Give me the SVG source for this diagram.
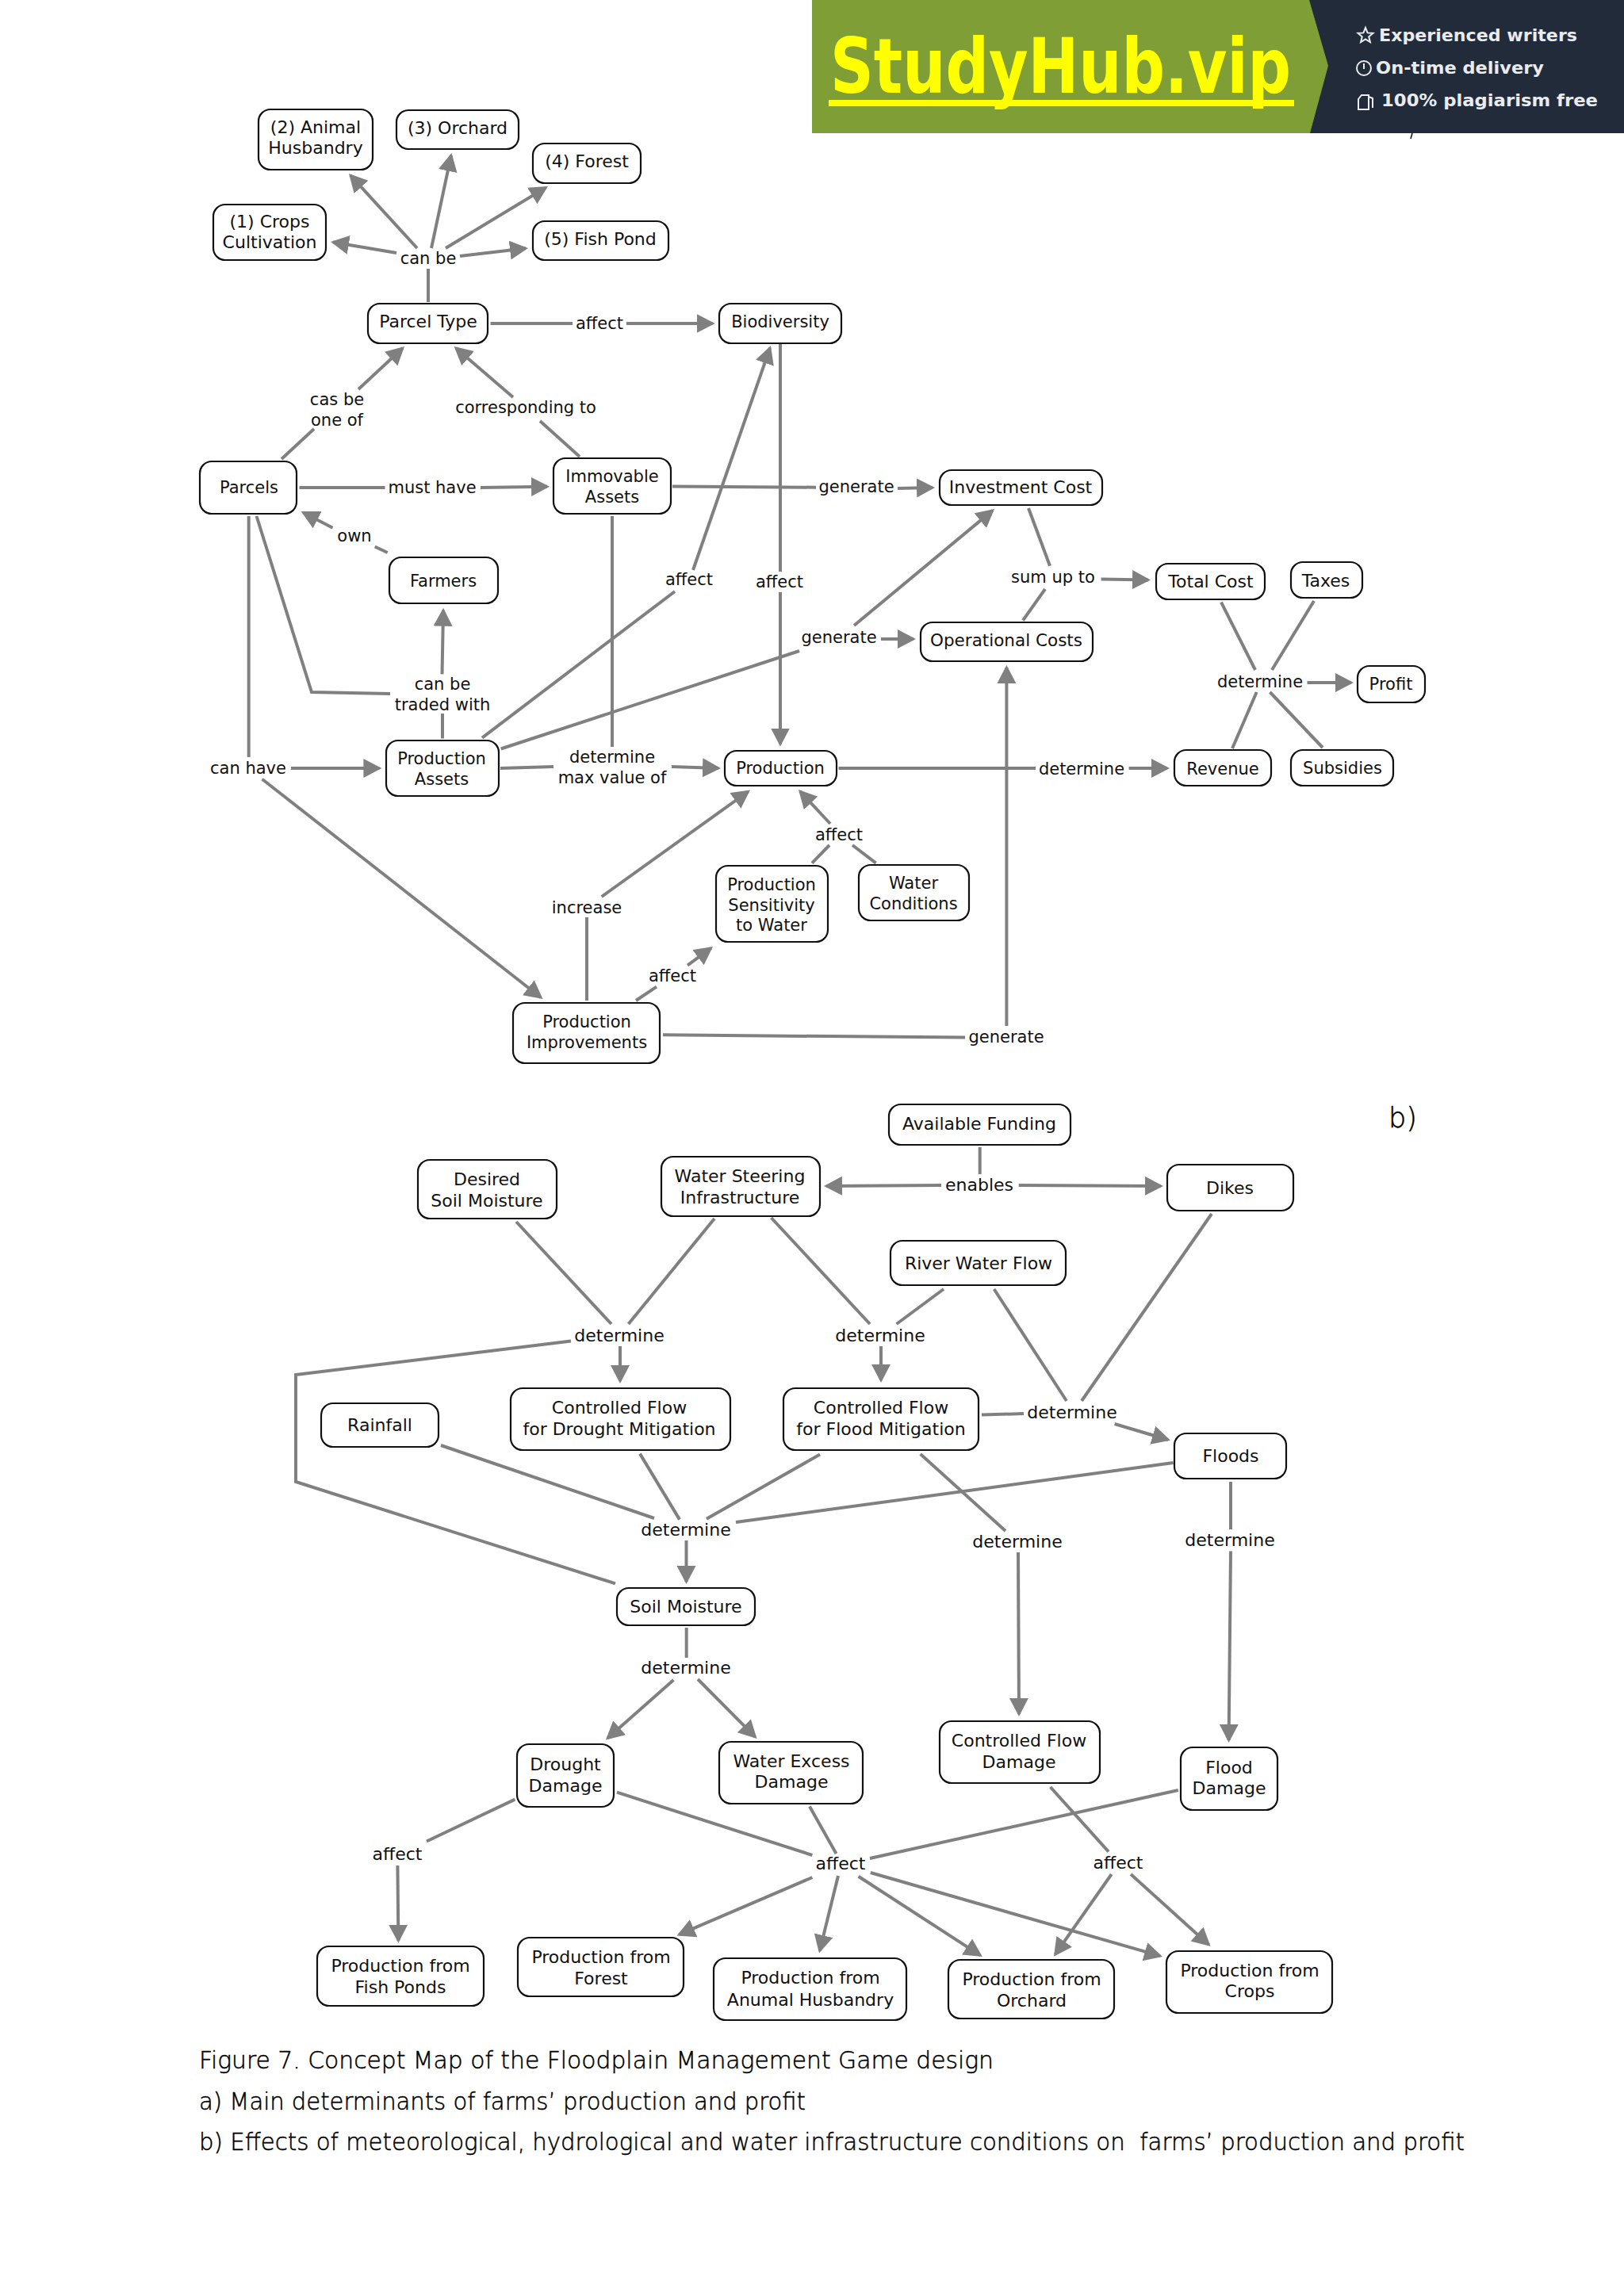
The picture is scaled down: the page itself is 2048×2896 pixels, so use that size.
<svg xmlns="http://www.w3.org/2000/svg" width="2048" height="2896" viewBox="0 0 2048 2896">
<style>
text{font-family:"DejaVu Sans","Liberation Sans",sans-serif;font-size:21px;fill:#111;text-anchor:middle}
.n rect{fill:#fff;stroke:#111;stroke-width:2.2}
.t22 text,#section-b text{font-size:22px}
#connectors path{fill:none;stroke:#808080;stroke-width:4}
#connectors path.a{marker-end:url(#arrow)}
#captions text{font-weight:200;text-anchor:start;fill:#000;stroke:#000;stroke-width:.5}
#captions .cap{font-size:30px}
#captions .bl{font-size:35px}
.ban{font-weight:700;font-size:21px;text-anchor:start;fill:#e9ebef}
.ic{fill:none;stroke:#e9ebef;stroke-width:2}
</style>
<defs>
<marker id="arrow" markerUnits="userSpaceOnUse" markerWidth="26" markerHeight="26" refX="20" refY="12" orient="auto"><path d="M0 0L23 12L0 24Z" fill="#808080"/></marker>
</defs>
<rect width="2048" height="2896" fill="#fff"/>
<g id="banner">
<rect x="1024" y="0" width="1024" height="168" fill="#7f9e36"/>
<path d="M1651 0H2048V168H1652L1675 83Z" fill="#222b3a"/>
<text transform="translate(1047 117) scale(.793 1)" style="font-size:96px;font-weight:700;fill:#ffff00;text-anchor:start">StudyHub.vip</text>
<rect x="1045" y="126" width="587" height="8" fill="#ffff00"/>
<path class="ic" d="M1722 35l2.6 6.4 6.9.5-5.3 4.400 1.700 6.700-5.900-3.600-5.900 3.600 1.700-6.700-5.300-4.400 6.900-.5z"/>
<text class="ban" x="1739" y="52" textLength="250" lengthAdjust="spacingAndGlyphs">Experienced writers</text>
<circle class="ic" cx="1720" cy="86" r="9"/>
<path class="ic" d="M1720 80v7"/>
<text class="ban" x="1735" y="93" textLength="212" lengthAdjust="spacingAndGlyphs">On-time delivery</text>
<path class="ic" d="M1717 120h9v18h-13v-13zM1726 122l5 2v12"/>
<text class="ban" x="1742" y="134" textLength="273" lengthAdjust="spacingAndGlyphs">100% plagiarism free</text>
<path d="M1781 168l-2 7" stroke="#111" stroke-width="1.500" fill="none"/>
</g>
<g id="connectors">
<path d="M500 319L420 305.500" class="a"/>
<path d="M526 313L442 221.200" class="a"/>
<path d="M544 313L568.900 196" class="a"/>
<path d="M562 313L688.400 236.600" class="a"/>
<path d="M580 323L663 313.300" class="a"/>
<path d="M540 339V381"/>
<path d="M618.600 408H722"/>
<path d="M790 408H898.600" class="a"/>
<path d="M355 579L396 541"/>
<path d="M452 491L507.800 439" class="a"/>
<path d="M731 576L681 531"/>
<path d="M647 501L574.900 439" class="a"/>
<path d="M377.500 615H485.500"/>
<path d="M606 615L690 613.700" class="a"/>
<path d="M848 613.600L1029 614.700"/>
<path d="M1132 616L1176 615" class="a"/>
<path d="M488.700 697L472.700 689.500"/>
<path d="M419.500 665.700L382.400 646.400" class="a"/>
<path d="M313.700 651V955"/>
<path d="M323.500 651L393 873L492 875"/>
<path d="M557.500 850.400L559 769.700" class="a"/>
<path d="M558 900V931.500"/>
<path d="M367 969H478.400" class="a"/>
<path d="M330.600 982.700L682.100 1258.200" class="a"/>
<path d="M608 930.600L851 746"/>
<path d="M874 719L971 438.800" class="a"/>
<path d="M631.700 944.500L1008 821"/>
<path d="M1111 806H1152" class="a"/>
<path d="M1077 789L1251.700 643.900" class="a"/>
<path d="M772 651V942"/>
<path d="M631 969L698 967"/>
<path d="M847 967L906 969" class="a"/>
<path d="M984 434V721"/>
<path d="M984 747V938.500" class="a"/>
<path d="M740 1157V1262"/>
<path d="M758.700 1131L943.600 998.300" class="a"/>
<path d="M802 1262L828 1244.600"/>
<path d="M867 1217.700L896.600 1195.800" class="a"/>
<path d="M1047 1039L1009 998.200" class="a"/>
<path d="M1046 1066L1024 1088.700"/>
<path d="M1075 1066L1104.600 1088.700"/>
<path d="M1057.500 969H1306"/>
<path d="M1423.600 969H1472" class="a"/>
<path d="M1297 641L1324 713.700"/>
<path d="M1318 743L1290 782.500"/>
<path d="M1388.600 730.500L1448 731.400" class="a"/>
<path d="M1540 759.600L1583 845"/>
<path d="M1657 758L1604 845"/>
<path d="M1584.700 873L1554 944"/>
<path d="M1601.500 873L1668 943"/>
<path d="M1648.500 861H1704" class="a"/>
<path d="M836 1305.300L1217 1308.600"/>
<path d="M1269.400 1294V842" class="a"/>
<path d="M1235.700 1447V1481"/>
<path d="M1187 1495L1042 1496" class="a"/>
<path d="M1284.700 1495L1464 1496" class="a"/>
<path d="M651 1541L771 1670"/>
<path d="M901 1537L792.500 1670"/>
<path d="M972.600 1536L1097 1670"/>
<path d="M1190 1626L1130.600 1670"/>
<path d="M782 1698V1742" class="a"/>
<path d="M1111 1698V1741" class="a"/>
<path d="M1253.600 1626L1345 1767"/>
<path d="M1528 1531L1364 1767"/>
<path d="M1238 1784.600L1291 1783"/>
<path d="M1405.600 1796L1473 1816" class="a"/>
<path d="M720 1691.600L373 1734V1869L776 1997.400"/>
<path d="M556 1823L825 1915"/>
<path d="M807 1833.600L857 1916.600"/>
<path d="M1034 1834.500L891 1915.700"/>
<path d="M1479.600 1845L928 1920"/>
<path d="M865.500 1943V1995" class="a"/>
<path d="M1160.700 1834L1268 1931"/>
<path d="M1284 1958L1285 2162" class="a"/>
<path d="M1552 1869V1929"/>
<path d="M1552 1956.500L1549.600 2195" class="a"/>
<path d="M865.700 2053V2091"/>
<path d="M849.400 2119L766.200 2192.600" class="a"/>
<path d="M880 2118L952.400 2190.900" class="a"/>
<path d="M649.400 2269.600L538 2322.500"/>
<path d="M501.400 2353L502.400 2447.700" class="a"/>
<path d="M778 2260.700L1024.400 2340"/>
<path d="M1021 2278.600L1054.500 2338"/>
<path d="M1485.800 2258L1097 2344"/>
<path d="M1024.400 2368L856.300 2440.200" class="a"/>
<path d="M1057 2366L1033.700 2460.700" class="a"/>
<path d="M1082.600 2366.700L1236.300 2466.400" class="a"/>
<path d="M1097.800 2362L1463.100 2467.200" class="a"/>
<path d="M1324.600 2254L1398 2335.700"/>
<path d="M1401.700 2364L1330.700 2465.200" class="a"/>
<path d="M1426 2364L1524.400 2453" class="a"/>
</g>
<g id="section-a">
<g id="n-animal" class="n t22"><rect x="326" y="138" width="144" height="76" rx="15"/><text x="398" y="168">(2) Animal</text><text x="398" y="194">Husbandry</text></g>
<g id="n-orchard" class="n t22"><rect x="500" y="139" width="154" height="49" rx="15"/><text x="577" y="169">(3) Orchard</text></g>
<g id="n-forest" class="n t22"><rect x="672" y="181" width="136" height="50" rx="15"/><text x="740" y="211">(4) Forest</text></g>
<g id="n-fishpond" class="n t22"><rect x="672" y="279" width="171" height="49" rx="15"/><text x="757" y="309">(5) Fish Pond</text></g>
<g id="n-crops" class="n t22"><rect x="269" y="258" width="142" height="70" rx="15"/><text x="340" y="287">(1) Crops</text><text x="340" y="313">Cultivation</text></g>
<g id="n-parceltype" class="n t22"><rect x="464" y="383" width="151" height="50" rx="15"/><text x="540" y="413">Parcel Type</text></g>
<g id="n-biodiversity" class="n"><rect x="907" y="383" width="154" height="50" rx="15"/><text x="984" y="413">Biodiversity</text></g>
<g id="n-parcels" class="n"><rect x="252" y="582" width="122" height="66" rx="15"/><text x="314" y="622">Parcels</text></g>
<g id="n-immovable" class="n"><rect x="698" y="578" width="148" height="70" rx="15"/><text x="772" y="608">Immovable</text><text x="772" y="634">Assets</text></g>
<g id="n-farmers" class="n"><rect x="491" y="703" width="137" height="58" rx="15"/><text x="559" y="740">Farmers</text></g>
<g id="n-assets" class="n"><rect x="487" y="934" width="142" height="70" rx="15"/><text x="557" y="964">Production</text><text x="557" y="990">Assets</text></g>
<g id="n-improvements" class="n"><rect x="647" y="1265" width="185" height="76" rx="15"/><text x="740" y="1296">Production</text><text x="740" y="1322">Improvements</text></g>
<g id="n-production" class="n"><rect x="914" y="947" width="141" height="44" rx="15"/><text x="984" y="976">Production</text></g>
<g id="n-sensitivity" class="n"><rect x="903" y="1092" width="141" height="96" rx="15"/><text x="973" y="1123">Production</text><text x="973" y="1149">Sensitivity</text><text x="973" y="1174">to Water</text></g>
<g id="n-water" class="n"><rect x="1083" y="1091" width="139" height="70" rx="15"/><text x="1152" y="1121">Water</text><text x="1152" y="1147">Conditions</text></g>
<g id="n-invest" class="n t22"><rect x="1185" y="593" width="205" height="44" rx="15"/><text x="1287" y="622">Investment Cost</text></g>
<g id="n-opcost" class="n"><rect x="1161" y="785" width="217" height="49" rx="15"/><text x="1269" y="815" style="font-size:21.5px">Operational Costs</text></g>
<g id="n-total" class="n t22"><rect x="1458" y="711" width="137" height="45" rx="15"/><text x="1527" y="741">Total Cost</text></g>
<g id="n-taxes" class="n t22"><rect x="1628" y="709" width="90" height="45" rx="15"/><text x="1672" y="740">Taxes</text></g>
<g id="n-profit" class="n"><rect x="1712" y="840" width="85" height="46" rx="15"/><text x="1754" y="870">Profit</text></g>
<g id="n-revenue" class="n"><rect x="1481" y="946" width="122" height="45" rx="15"/><text x="1542" y="977">Revenue</text></g>
<g id="n-subsidies" class="n"><rect x="1628" y="946" width="129" height="45" rx="15"/><text x="1693" y="976">Subsidies</text></g>
<g id="link-labels-a">
<text x="540" y="333">can be</text>
<text x="756" y="415">affect</text>
<text x="425" y="511">cas be</text><text x="425" y="537">one of</text>
<text x="663" y="521">corresponding to</text>
<text x="545" y="622">must have</text>
<text x="1080" y="621">generate</text>
<text x="447" y="683">own</text>
<text x="313" y="976">can have</text>
<text x="558" y="870">can be</text><text x="558" y="896">traded with</text>
<text x="869" y="738">affect</text>
<text x="983" y="741">affect</text>
<text x="1058" y="811">generate</text>
<text x="772" y="962">determine</text><text x="772" y="988">max value of</text>
<text x="740" y="1152">increase</text>
<text x="848" y="1238">affect</text>
<text x="1058" y="1060">affect</text>
<text x="1364" y="977">determine</text>
<text x="1328" y="735">sum up to</text>
<text x="1589" y="867">determine</text>
<text x="1269" y="1315">generate</text>
</g>
</g>
<g id="section-b">
<g id="n-desired" class="n"><rect x="527" y="1463" width="175" height="74" rx="15"/><text x="614" y="1495">Desired</text><text x="614" y="1522">Soil Moisture</text></g>
<g id="n-steering" class="n"><rect x="834" y="1459" width="200" height="75" rx="15"/><text x="933" y="1491">Water Steering</text><text x="933" y="1518">Infrastructure</text></g>
<g id="n-funding" class="n"><rect x="1121" y="1393" width="229" height="51" rx="15"/><text x="1235" y="1425">Available Funding</text></g>
<g id="n-dikes" class="n"><rect x="1472" y="1469" width="159" height="58" rx="15"/><text x="1551" y="1506">Dikes</text></g>
<g id="n-river" class="n"><rect x="1123" y="1565" width="221" height="56" rx="15"/><text x="1234" y="1601">River Water Flow</text></g>
<g id="n-cfdrought" class="n"><rect x="644" y="1751" width="277" height="78" rx="15"/><text x="781" y="1783">Controlled Flow</text><text x="781" y="1810">for Drought Mitigation</text></g>
<g id="n-cfflood" class="n"><rect x="988" y="1751" width="246" height="78" rx="15"/><text x="1111" y="1783">Controlled Flow</text><text x="1111" y="1810">for Flood Mitigation</text></g>
<g id="n-rainfall" class="n"><rect x="405" y="1770" width="148" height="55" rx="15"/><text x="479" y="1805">Rainfall</text></g>
<g id="n-floods" class="n"><rect x="1481" y="1808" width="141" height="57" rx="15"/><text x="1552" y="1844">Floods</text></g>
<g id="n-soil" class="n"><rect x="778" y="2003" width="174" height="47" rx="15"/><text x="865" y="2034">Soil Moisture</text></g>
<g id="n-drought" class="n"><rect x="652" y="2200" width="122" height="79" rx="15"/><text x="713" y="2233">Drought</text><text x="713" y="2260">Damage</text></g>
<g id="n-excess" class="n"><rect x="907" y="2197" width="181" height="78" rx="15"/><text x="998" y="2229">Water Excess</text><text x="998" y="2255">Damage</text></g>
<g id="n-cfdamage" class="n"><rect x="1185" y="2171" width="202" height="78" rx="15"/><text x="1285" y="2203">Controlled Flow</text><text x="1285" y="2230">Damage</text></g>
<g id="n-flooddamage" class="n"><rect x="1489" y="2204" width="122" height="79" rx="15"/><text x="1550" y="2237">Flood</text><text x="1550" y="2263">Damage</text></g>
<g id="n-pfish" class="n"><rect x="400" y="2455" width="210" height="75" rx="15"/><text x="505" y="2487">Production from</text><text x="505" y="2514">Fish Ponds</text></g>
<g id="n-pforest" class="n"><rect x="653" y="2444" width="209" height="74" rx="15"/><text x="758" y="2476">Production from</text><text x="758" y="2503">Forest</text></g>
<g id="n-panimal" class="n"><rect x="900" y="2470" width="243" height="78" rx="15"/><text x="1022" y="2502">Production from</text><text x="1022" y="2530">Anumal Husbandry</text></g>
<g id="n-porchard" class="n"><rect x="1196" y="2472" width="209" height="74" rx="15"/><text x="1301" y="2504">Production from</text><text x="1301" y="2531">Orchard</text></g>
<g id="n-pcrops" class="n"><rect x="1471" y="2461" width="209" height="78" rx="15"/><text x="1576" y="2493">Production from</text><text x="1576" y="2519">Crops</text></g>
<g id="link-labels-b">
<text x="1235" y="1502">enables</text>
<text x="781" y="1692">determine</text>
<text x="1110" y="1692">determine</text>
<text x="1352" y="1789">determine</text>
<text x="865" y="1937">determine</text>
<text x="1283" y="1952">determine</text>
<text x="1551" y="1950">determine</text>
<text x="865" y="2111">determine</text>
<text x="501" y="2346">affect</text>
<text x="1060" y="2358">affect</text>
<text x="1410" y="2357">affect</text>
</g>
</g>
<g id="captions">
<text class="bl" x="1751" y="1422">b)</text>
<text class="cap" x="251" y="2609" textLength="1002" lengthAdjust="spacingAndGlyphs">Figure 7. Concept Map of the Floodplain Management Game design</text>
<text class="cap" x="251" y="2661" textLength="765" lengthAdjust="spacingAndGlyphs">a) Main determinants of farms’ production and profit</text>
<text class="cap" x="251" y="2712" textLength="1596" lengthAdjust="spacingAndGlyphs" xml:space="preserve">b) Effects of meteorological, hydrological and water infrastructure conditions on  farms’ production and profit</text>
</g>
</svg>
